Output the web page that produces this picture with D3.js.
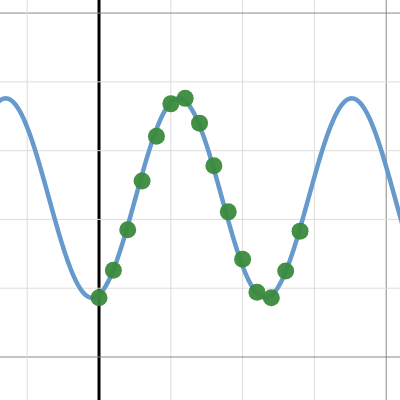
<!DOCTYPE html><html><head><script src="https://d3js.org/d3.v7.min.js"></script>
<style>body{margin:0;background:#fff}</style></head><body><svg width="400" height="400"></svg>
<script>
const xs=[0,0.2,0.4,0.6,0.8,1.0,1.2,1.4,1.6,1.8,2.0,2.2,2.4,2.6,2.8];
const ys=[0.86,1.26,1.85,2.56,3.21,3.68,3.76,3.40,2.78,2.11,1.42,0.94,0.86,1.25,1.83];
const gridX=[-1,0,1,2,3,4];
const gridY=[0,1,2,3,4,5];
const majorX=[4], majorY=[0,5];
const fit={c:2.31,a:1.45,period:2.41,peak:1.11};
const svg=d3.select("svg");
const x=d3.scaleLinear().domain([-1.379,4.192]).range([0,400]);
const y=d3.scaleLinear().domain([5.19,-0.625]).range([0,400]);
svg.selectAll(".gx").data(gridX).join("line").attr("x1",d=>x(d)).attr("x2",d=>x(d)).attr("y1",0).attr("y2",400)
 .attr("stroke",d=>d===0?"#000":majorX.includes(d)?"#888":"#ddd").attr("stroke-width",d=>d===0?3:1);
svg.selectAll(".gy").data(gridY).join("line").attr("y1",d=>y(d)).attr("y2",d=>y(d)).attr("x1",0).attr("x2",400)
 .attr("stroke",d=>majorY.includes(d)?"#888":"#ddd").attr("stroke-width",1);
svg.select("line").raise();
const curveX=d3.range(-1.4,4.25,0.01);
const line=d3.line().x(d=>x(d)).y(d=>y(fit.c+fit.a*Math.cos(2*Math.PI*(d-fit.peak)/fit.period)));
svg.append("path").datum(curveX).attr("d",line).attr("fill","none").attr("stroke","#6699cc").attr("stroke-width",4.5);
svg.selectAll("circle").data(xs).join("circle").attr("cx",d=>x(d)).attr("cy",(d,i)=>y(ys[i])).attr("r",8.5)
 .attr("fill","#3a8a3c").attr("opacity",0.95);
</script></body></html>
